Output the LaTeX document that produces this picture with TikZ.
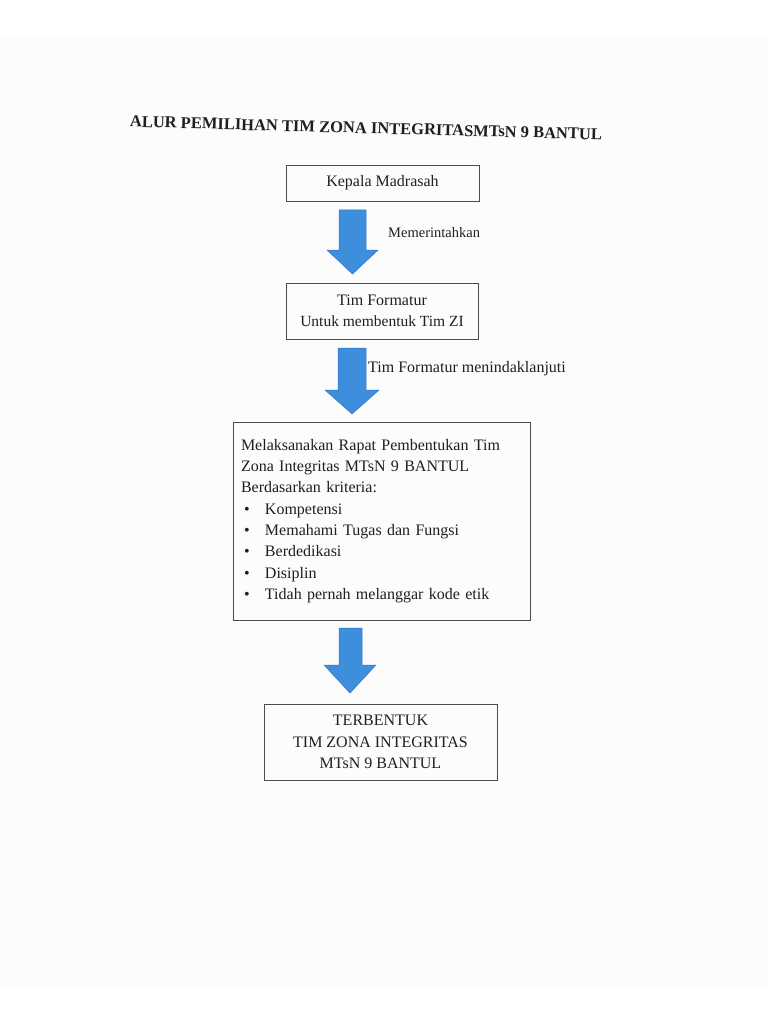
\documentclass[tikz,border=0pt]{standalone}
\usepackage{fontspec}
\setmainfont{Liberation Serif}
\definecolor{arrowblue}{RGB}{62,142,222}
\definecolor{arrowedge}{RGB}{48,118,196}
\definecolor{ink}{RGB}{34,30,30}
\definecolor{pagebg}{RGB}{252,252,252}
\newcommand\BlkArr[7]{% shaft-left, shaft-right, top, head-left, head-right, head-base, tip
  \filldraw[fill=arrowblue,draw=arrowedge,line width=0.5pt,line join=miter]
    (#1,#3) -- (#2,#3) -- (#2,#6) -- (#5,#6) -- ({(#4+#5)/2},#7) -- (#4,#6) -- (#1,#6) -- cycle;}
\begin{document}
\begin{tikzpicture}[x=1pt,y=-1pt,
  box/.style={draw=black!70,line width=0.8pt,text=ink,align=center,inner sep=0pt,
              font=\fontsize{16}{21.3}\selectfont},
  lbl/.style={text=ink,anchor=west,inner sep=0pt}]
\useasboundingbox (0,0) rectangle (768,1024);
\fill[white] (0,0) rectangle (768,1024);
\fill[pagebg] (0,36) rectangle (768,986);

\node[text=ink,font=\bfseries\fontsize{16.5}{20}\selectfont,rotate=-1.55,inner sep=0pt] (title) at (366,128)
  {ALUR PEMILIHAN TIM ZONA INTEGRITASMTsN 9 BANTUL};

\node[box,minimum width=193pt,minimum height=36pt] (b1) at (382.5,183) {Kepala Madrasah};

\node[box,minimum width=192pt,minimum height=56pt] (b2) at (382,311)
  {Tim Formatur\\[-0.5pt]{\fontsize{15.5}{21}\selectfont Untuk membentuk Tim ZI}};

\node[box,minimum width=297pt,minimum height=198pt,align=left,text width=281pt,inner xsep=8pt] (b3) at (381.5,521)
  {\makebox[269pt][s]{Melaksanakan Rapat Pembentukan Tim}\\
   Zona Integritas MTsN 9 BANTUL\\
   Berdasarkan kriteria:\\
   \hspace*{3pt}\makebox[21pt][l]{\textbullet}Kompetensi\\
   \hspace*{3pt}\makebox[21pt][l]{\textbullet}Memahami Tugas dan Fungsi\\
   \hspace*{3pt}\makebox[21pt][l]{\textbullet}Berdedikasi\\
   \hspace*{3pt}\makebox[21pt][l]{\textbullet}Disiplin\\
   \hspace*{3pt}\makebox[21pt][l]{\textbullet}Tidah pernah melanggar kode etik};

\node[box,minimum width=233pt,minimum height=76pt,font=\fontsize{16}{21.5}\selectfont] (b4) at (380.5,742)
  {TERBENTUK\\TIM ZONA INTEGRITAS\\MTsN 9 BANTUL};

\BlkArr{339}{366}{210}{327}{378}{250}{274}
\BlkArr{338}{366}{348}{325}{379}{390}{414}
\BlkArr{339}{362}{628}{324}{376}{665}{693}

\node[lbl,font=\fontsize{14.5}{17}\selectfont] (l1) at (388,233) {Memerintahkan};
\node[lbl,font=\fontsize{16}{19}\selectfont] (l2) at (368,369) {Tim Formatur menindaklanjuti};
\end{tikzpicture}
\end{document}
